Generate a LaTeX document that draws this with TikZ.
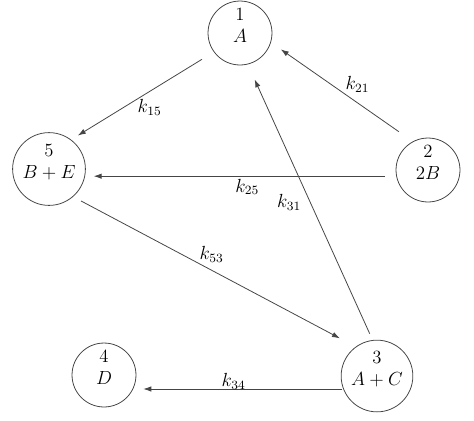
\documentclass[tikz,border=0pt]{standalone}
\usepackage{amsmath}
\usetikzlibrary{arrows.meta}
\definecolor{linie}{HTML}{454545}

\begin{document}
\begin{tikzpicture}[x=0.0222cm, y=-0.0222cm,
    font=\fontsize{11.8pt}{13.8pt}\selectfont,
    zust/.style={draw=linie, circle, line width=0.5pt, minimum size=1.42cm,
                 inner sep=0pt, align=center, text depth=10pt},
    pfeil/.style={-{Latex[length=5pt, width=3.4pt]}, draw=linie, line width=0.5pt},
    rate/.style={inner sep=1.5pt}
  ]
  \useasboundingbox (0,0) rectangle (474,420);
  % zustaende
  \node[zust] (z1) at (240,33)  {1\\$A$};
  \node[zust] (z2) at (428,170) {2\\$2B$};
  \node[zust] (z3) at (377,376) {3\\$A+C$};
  \node[zust] (z4) at (104,375) {4\\$D$};
  \node[zust] (z5) at (49,169)  {5\\$B+E$};
  % uebergaenge
  \draw[pfeil, shorten <=10.7pt, shorten >=7.6pt] (z2.118) --
    node[rate, pos=0.39, above=5pt] {$k_{21}$} (z1.-17);
  \draw[pfeil, shorten <=8.8pt, shorten >=5pt] (z1.216) --
    node[rate, pos=0.45, below=3pt] {$k_{15}$} (z5.53);
  \draw[pfeil, shorten <=7pt, shorten >=5pt] (z2.191) --
    node[rate, pos=0.48, below] {$k_{25}$} (z2.191 -| z5.east);
  \draw[pfeil, shorten <=4.4pt, shorten >=10.4pt] (z3.97) --
    node[rate, pos=0.5, left=4pt] {$k_{31}$} (z1.-76);
  \draw[pfeil, shorten <=5.7pt, shorten >=11.3pt] (z5.-49) --
    node[rate, pos=0.49, above=3pt] {$k_{53}$} (z3.126);
  \draw[pfeil, shorten <=1pt, shorten >=4.4pt] (z3.201) --
    node[rate, pos=0.53, above=-2pt] {$k_{34}$} (z3.201 -| z4.east);
\end{tikzpicture}
\end{document}
